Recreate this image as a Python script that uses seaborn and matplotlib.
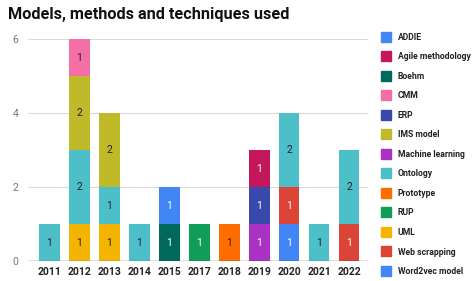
import matplotlib
matplotlib.use("Agg")
import matplotlib.pyplot as plt
import seaborn as sns
import numpy as np
import pandas as pd
from matplotlib.lines import Line2D

years = ["2011", "2012", "2013", "2014", "2015", "2017", "2018", "2019", "2020", "2021", "2022"]
series = ["ADDIE", "Agile methodology", "Boehm", "CMM", "ERP", "IMS model",
          "Machine learning", "Ontology", "Prototype", "RUP", "UML",
          "Web scrapping", "Word2vec model"]
addie        = [0, 0, 0, 0, 1, 0, 0, 0, 0, 0, 0]
agile        = [0, 0, 0, 0, 0, 0, 0, 1, 0, 0, 0]
boehm        = [0, 0, 0, 0, 1, 0, 0, 0, 0, 0, 0]
cmm          = [0, 1, 0, 0, 0, 0, 0, 0, 0, 0, 0]
erp          = [0, 0, 0, 0, 0, 0, 0, 1, 0, 0, 0]
ims          = [0, 2, 2, 0, 0, 0, 0, 0, 0, 0, 0]
ml           = [0, 0, 0, 0, 0, 0, 0, 1, 0, 0, 0]
ontology     = [1, 2, 1, 1, 0, 0, 0, 0, 2, 1, 2]
prototype    = [0, 0, 0, 0, 0, 0, 1, 0, 0, 0, 0]
rup          = [0, 0, 0, 0, 0, 1, 0, 0, 0, 0, 0]
uml          = [0, 1, 1, 0, 0, 0, 0, 0, 0, 0, 0]
web          = [0, 0, 0, 0, 0, 0, 0, 0, 1, 0, 1]
word2vec     = [0, 0, 0, 0, 0, 0, 0, 0, 1, 0, 0]

values = [addie, agile, boehm, cmm, erp, ims, ml, ontology, prototype, rup, uml, web, word2vec]
colors = ["#4285F4", "#C2185B", "#00695C", "#F46FA5", "#3949AB", "#C0B92A",
          "#AB30C4", "#4DBFC9", "#FF6D00", "#0F9D58", "#F4B400", "#DB4437", "#4285F4"]
label_colors = ["white", "white", "white", "#222222", "white", "#222222",
                "white", "#222222", "#222222", "white", "#222222", "white", "white"]

sns.set_style("white")
plt.rcParams['font.family'] = ['Roboto', 'DejaVu Sans']

fig = plt.figure(figsize=(4.74, 2.81), dpi=100)
ax = fig.add_axes([0.059, 0.071, 0.717, 0.79])

bottom = np.zeros(len(years))
for i in range(len(series) - 1, -1, -1):
    vals = np.array(values[i], dtype=float)
    df = pd.DataFrame({"year": years, "v": vals})
    sns.barplot(data=df, x="year", y="v", order=years, color=colors[i],
                bottom=bottom, width=0.68, saturation=1, ax=ax, errorbar=None,
                linewidth=0)
    cont = ax.containers[-1]
    labs = [str(int(v)) if v > 0 else "" for v in vals]
    ax.bar_label(cont, labels=labs, label_type="center", color=label_colors[i],
                 fontsize=7.5)
    bottom = bottom + vals

ax.set_ylim(0, 6)
ax.set_xlim(-0.72, len(years) - 0.38)
ax.set_yticks([0, 2, 4, 6])
ax.yaxis.grid(True, color="#d9d9d9", linewidth=0.8)
ax.set_axisbelow(True)
ax.axhline(0, color="#333333", linewidth=0.9, zorder=5)
for s in ax.spines.values():
    s.set_visible(False)
ax.set_xlabel("")
ax.set_ylabel("")
ax.tick_params(axis="y", labelsize=7.5, labelcolor="#757575", length=0, pad=7)
ax.tick_params(axis="x", labelsize=7.5, length=0, pad=4)
for t in ax.get_xticklabels():
    t.set_fontweight("bold")
    t.set_color("#222222")

fig.text(0.017, 0.95, "Models, methods and techniques used", fontsize=11.7,
         fontweight="bold", va="center", ha="left", color="#111111")

handles = [Line2D([0], [0], marker="s", linestyle="", markersize=7.5,
                  markerfacecolor=c, markeredgecolor=c) for c in colors]
leg = fig.legend(handles, series, loc="upper left", bbox_to_anchor=(0.797, 0.895),
                 frameon=False, fontsize=6.2, labelspacing=1.22, handletextpad=0.9,
                 borderaxespad=0, handlelength=1.0)
for t in leg.get_texts():
    t.set_fontweight("bold")
    t.set_color("#222222")

fig.savefig("out.png", dpi=100)
